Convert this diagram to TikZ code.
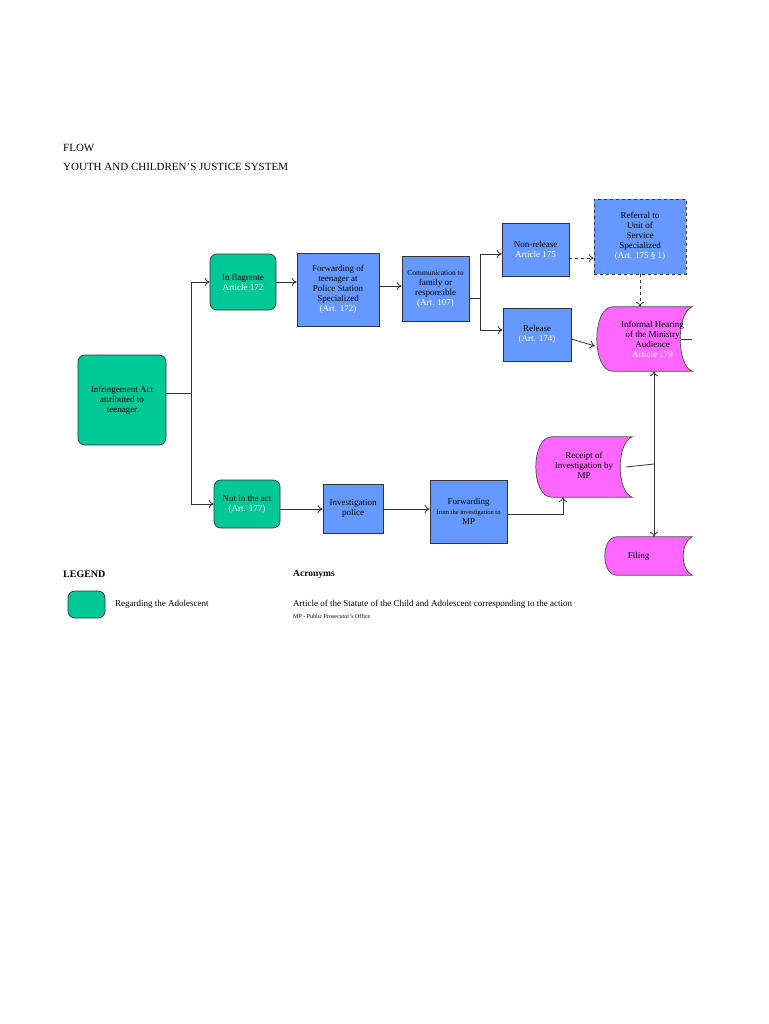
\documentclass[tikz,border=0pt]{standalone}
\usepackage{fontspec}
\setmainfont{Liberation Serif}
\usetikzlibrary{calc,arrows.meta}
\definecolor{gr}{RGB}{0,200,150}
\definecolor{bl}{RGB}{102,153,255}
\definecolor{mg}{RGB}{255,102,255}
\begin{document}
\begin{tikzpicture}[x=1pt,y=-1pt,
  every node/.style={font=\fontsize{9}{10}\selectfont, align=center, inner sep=0pt},
  g/.style={draw=black!80, fill=gr, rounded corners=7pt, line width=0.7pt},
  b/.style={draw=black!80, fill=bl, line width=0.7pt},
  m/.style={fill=none,draw=none},
  w/.style={text=white},
  ar/.style={draw=black!80, line width=0.8pt, -{To[length=5pt,width=8pt]}},
  ln/.style={draw=black!80, line width=0.8pt},
  mgs/.style={fill=mg, draw=black!70, line width=0.7pt}]
\useasboundingbox (0,0) rectangle (768,1024);
\fill[white] (0,0) rectangle (768,1024);
\node[anchor=west,font=\fontsize{11}{12}\selectfont] (t1) at (63,148) {FLOW};
\node[anchor=west,font=\fontsize{11}{12}\selectfont] (t2) at (63,167) {YOUTH AND CHILDREN'S JUSTICE SYSTEM};
\newcommand{\bx}[6]{\node[#1, minimum width=#4-#2, minimum height=#5-#3] (#6) at ({(#2+#4)/2},{(#3+#5)/2}) {};}
\bx{g}{78}{355}{166}{445}{inf}
\node at (inf) {Infringement Act\\attributed to\\teenager};
\bx{g}{210}{254}{276}{310}{fla}
\node at (fla) {In flagrante\\\textcolor{white}{Article 172}};
\bx{b}{297}{253}{379}{326}{fwd}
\node at (fwd) {Forwarding of\\teenager at\\Police Station\\Specialized\\\textcolor{white}{(Art. 172)}};
\bx{b}{402}{256}{469}{321}{com}
\node at (com) {{\fontsize{7.5}{9}\selectfont Communication to}\\family or\\responsible\\\textcolor{white}{(Art. 107)}};
\bx{b}{502}{223}{569}{276}{nr}
\node at (nr) {Non-release\\\textcolor{white}{Article 175}};
\node[b, dashed, minimum width=92, minimum height=75] (ref) at (640,236.5) {Referral to\\Unit of\\Service\\Specialized\\\textcolor{white}{(Art. 175 § 1)}};
\bx{b}{503}{308}{571}{361}{rel}
\node at (rel) {Release\\\textcolor{white}{(Art. 174)}};
\bx{m}{597}{307}{692}{371}{hear}
\bx{m}{536}{437}{632}{497}{rec}
\bx{m}{605}{537}{692}{575}{fil}
\foreach \n/\r in {hear/16,rec/16,fil/12}{
 \draw[mgs] ($(\n.north west)+(\r,0)$) -- (\n.north east)
   .. controls ($(\n.north east)+(-\r,6)$) and ($(\n.south east)+(-\r,-6)$) .. (\n.south east)
   -- ($(\n.south west)+(\r,0)$)
   .. controls ($(\n.south west)+(-\r/3,0)$) and ($(\n.north west)+(-\r/3,0)$) .. cycle;}
\draw[ln] ($(hear.east)+(-11,0)$) -- (hear.east);
\node at ($(hear)+(8,0)$) {Informal Hearing\\of the Ministry\\Audience\\\textcolor{white}{Article 179}};
\node at ($(rec)+(0,-2)$) {Receipt of\\Investigation by\\MP};
\node at ($(fil)+(-10,0)$) {Filing};
\bx{g}{214}{480}{280}{528}{nia}
\node at (nia) {Not in the act\\\textcolor{white}{(Art. 177)}};
\bx{b}{323}{484}{383}{533}{inv}
\node at (inv) {Investigation\\police};
\bx{b}{430}{480}{507}{543}{fmp}
\node at (fmp) {Forwarding\\{\fontsize{6.5}{9}\selectfont from the investigation to}\\MP};
% connectors
\coordinate (j1) at (191,393);
\draw[ln] (inf.east |- j1) -- (j1);
\draw[ar] (j1) |- (fla.west);
\draw[ar] (j1) |- (nia.west);
\draw[ar] (fla.east) -- (fwd.west |- fla.east);
\draw[ar] (fwd.east |- 0,286) -- (com.west |- 0,286);
\coordinate (j2) at (480,298);
\draw[ln] (com.east |- j2) -- (j2);
\draw[ar] (j2) |- (nr.west |- 0,254);
\draw[ar] (j2) |- (rel.west |- 0,330);
\draw[ar, dashed] (nr.east |- 0,258) -- (ref.west |- 0,258);
\draw[ar, dashed] (ref.south) -- (hear.north -| ref.south);
\draw[ar] (rel.east |- 0,339) -- ($(hear.west)+(-2,7)$);
\draw[ar] (nia.east |- 0,509) -- (inv.west |- 0,509);
\draw[ar] (inv.east |- 0,509) -- (fmp.west |- 0,509);
\draw[ar] (fmp.east |- 0,514) -| (563,497);
\coordinate (j3) at (654,464);
\draw[ln] ($(rec.east)+(-6,0)$) -- (j3);
\draw[ar] (j3) -- (hear.south -| j3);
\draw[ar] (j3) -- (fil.north -| j3);
% legend
\node[anchor=west,font=\bfseries\fontsize{10}{12}\selectfont] (lg) at (63,574) {LEGEND};
\bx{g}{68}{591}{105}{618}{lgb}
\node[anchor=west] (lgt) at (115,604) {Regarding the Adolescent};
\node[anchor=west,font=\bfseries\fontsize{9.5}{12}\selectfont] (acr) at (293,574) {Acronyms};
\node[anchor=west] (a1) at (293,604) {Article of the Statute of the Child and Adolescent corresponding to the action};
\node[anchor=west,font=\fontsize{6}{7}\selectfont] (a2) at (293,616) {MP - Public Prosecutor's Office};
\end{tikzpicture}
\end{document}
